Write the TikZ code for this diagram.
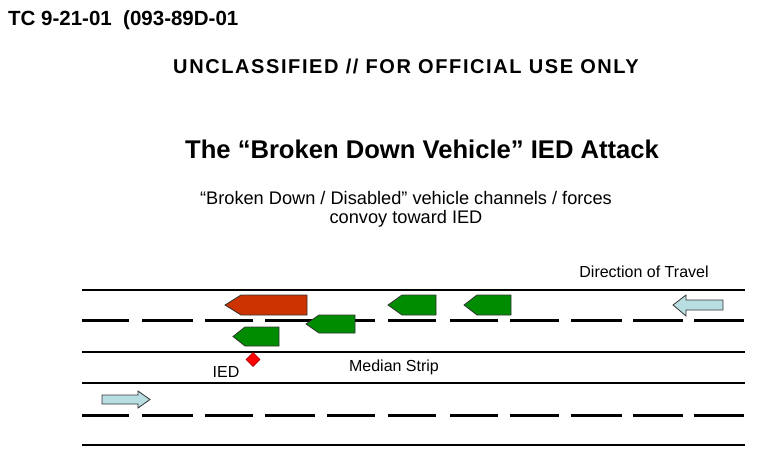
\documentclass[tikz,border=0pt]{standalone}
\usepackage{fontspec}
\setmainfont{Liberation Sans}
\newfontfamily\spacedfont[LetterSpace=8]{Liberation Sans}
\definecolor{carred}{HTML}{CC3300}
\definecolor{cargreen}{HTML}{008C00}
\definecolor{dirblue}{HTML}{B8DEE2}
\definecolor{edgegray}{HTML}{333333}
\tikzset{
  road/.style={line width=2.3pt, black},
  lanedash/.style={line width=2.3pt, black},
  vehicle/.style={draw=edgegray, line width=0.8pt, line join=miter},
  dirarrow/.style={draw=edgegray, line width=0.8pt, fill=dirblue},
  lbl/.style={inner sep=0pt, anchor=base, font=\fontsize{16}{19}\selectfont},
  sublbl/.style={inner sep=0pt, anchor=base, font=\fontsize{18.2}{21}\selectfont},
}
\newcommand{\carshape}[7]{% fill, tipx, cornerx, backx, top, bottom
  \filldraw[vehicle, fill=#1] (#2,{(#5+#6)/2}) -- (#3,#5) -- (#4,#5) -- (#4,#6) -- (#3,#6) -- cycle;
}
\begin{document}
\begin{tikzpicture}[x=1pt,y=-1pt]
\useasboundingbox (0,0) rectangle (767,473);
% header texts
\node[inner sep=0pt, anchor=base west, font=\fontsize{20.5}{24}\selectfont\bfseries] (hdr) at (8,26) {TC 9-21-01\ \ (093-89D-01};
\node[inner sep=0pt, anchor=base, font=\fontsize{20}{24}\selectfont\spacedfont\bfseries] (cls) at (406,74) {UNCLASSIFIED // FOR OFFICIAL USE ONLY};
\node[inner sep=0pt, anchor=base, font=\fontsize{25.6}{30}\selectfont\bfseries] (ttl) at (422,159) {The “Broken Down Vehicle” IED Attack};
\node[sublbl] (sub1) at (406,204) {“Broken Down / Disabled” vehicle channels / forces};
\node[sublbl] (sub2) at (406,223) {convoy toward IED};
% road
\foreach \yy in {290,352,383,445} \draw[road] (82,\yy) -- (745,\yy);
\foreach \ya in {320.5,415.5} {
  \foreach \sa/\ea in {82/129,142/193,205/253,265/315,327/375,388/436,450/498,510/559,571/622,633/683,694/744}
    \draw[lanedash] (\sa,\ya) -- (\ea,\ya);
}
% labels
\node[lbl] (dir) at (644,277) {Direction of Travel};
\node[lbl] (med) at (394,371) {Median Strip};
\node[lbl] (ied) at (226,377) {IED};
% IED diamond
\filldraw[fill=red, draw=red!60!black, line width=0.5pt] (253,352.5) -- (260,359.5) -- (253,366.5) -- (246,359.5) -- cycle;
% vehicles
\carshape{carred}{225}{241}{307}{295}{315}{}
\carshape{cargreen}{233}{245}{279}{327}{346}{}
\carshape{cargreen}{306}{319}{355}{315}{333}{}
\carshape{cargreen}{388}{402}{436}{295}{315}{}
\carshape{cargreen}{464}{477}{511}{295}{315}{}
% direction arrows
\filldraw[dirarrow] (673,305) -- (686,295) -- (686,300) -- (723,300) -- (723,310) -- (686,310) -- (686,316) -- cycle;
\filldraw[dirarrow] (150,399.5) -- (138,391) -- (138,395) -- (102,395) -- (102,404) -- (138,404) -- (138,408) -- cycle;
\end{tikzpicture}
\end{document}
